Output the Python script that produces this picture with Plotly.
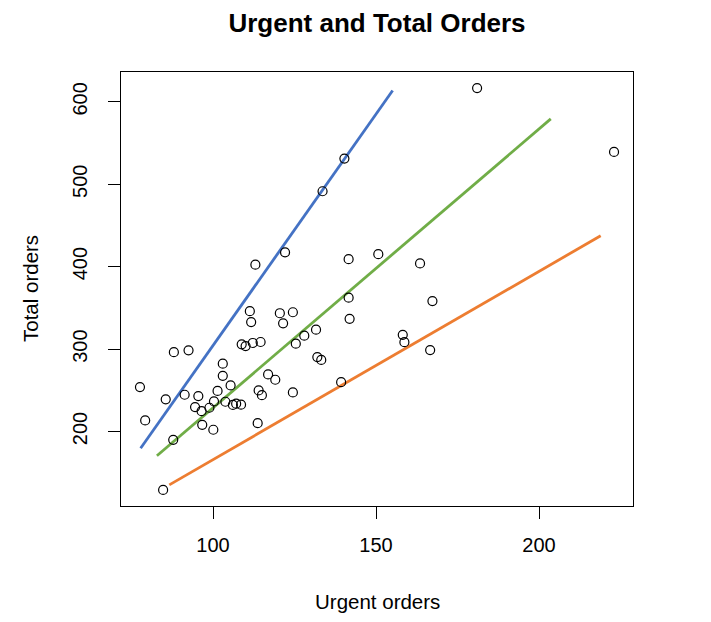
import plotly.graph_objects as go

# Data (Urgent orders vs Total orders)
urgent = [84.7, 87.8, 79.2, 77.6, 85.5, 91.3, 88.0, 92.5, 103.0, 103.0,
          105.4, 101.4, 95.5, 100.3, 94.5, 96.5, 98.9, 96.7, 100.1, 103.8,
          106.1, 107.1, 108.6, 111.3, 111.7, 120.5, 124.5, 121.5, 108.8, 110.0,
          112.2, 114.6, 125.4, 128.0, 131.6, 132.0, 133.2, 116.9, 119.1, 114.0,
          115.0, 124.5, 113.7, 140.3, 133.6, 122.1, 113.0, 141.6, 150.7, 163.5,
          181.0, 223.0, 141.6, 167.3, 141.9, 158.2, 158.7, 166.6, 139.3]
total = [129.1, 189.9, 213.4, 253.9, 239.0, 244.6, 296.3, 298.5, 282.3, 267.5,
         255.9, 249.2, 243.0, 236.5, 229.6, 224.7, 228.8, 208.1, 202.1, 236.1,
         232.2, 233.7, 232.5, 346.0, 332.8, 343.5, 344.7, 331.3, 305.8, 303.7,
         307.4, 308.6, 306.6, 316.3, 323.6, 290.3, 286.9, 269.3, 262.8, 249.8,
         244.1, 247.4, 210.1, 531.1, 491.5, 417.3, 402.4, 409.1, 415.2, 403.9,
         616.7, 539.2, 362.4, 358.3, 336.7, 317.3, 308.4, 298.8, 259.8]

# Fitted lines (endpoints)
blue_x = [77.8, 155.1]
blue_y = [179.7, 613.7]
green_x = [82.8, 203.6]
green_y = [170.5, 579.3]
orange_x = [86.6, 218.9]
orange_y = [135.2, 437.5]

x_ticks = [100, 150, 200]
y_ticks = [200, 300, 400, 500, 600]

FONT = "Liberation Sans, Arial, sans-serif"
W, H = 703, 614

def padded(vals, f=0.04):
    lo, hi = min(vals), max(vals)
    d = (hi - lo) * f
    return [lo - d, hi + d]

fig = go.Figure()
fig.add_trace(go.Scatter(x=blue_x, y=blue_y, mode="lines",
                         line=dict(color="#4472C4", width=2.8), showlegend=False))
fig.add_trace(go.Scatter(x=green_x, y=green_y, mode="lines",
                         line=dict(color="#70AD47", width=2.8), showlegend=False))
fig.add_trace(go.Scatter(x=orange_x, y=orange_y, mode="lines",
                         line=dict(color="#ED7D31", width=2.8), showlegend=False))
fig.add_trace(go.Scatter(x=urgent, y=total, mode="markers",
                         marker=dict(symbol="circle-open", size=9,
                                     color="black", line=dict(width=1.2, color="black")),
                         showlegend=False))

fig.update_layout(
    width=W, height=H,
    margin=dict(l=113, r=78, t=64, b=116),
    paper_bgcolor="white", plot_bgcolor="white",
    font=dict(family=FONT, size=20, color="black"),
    title=dict(text="<b>Urgent and Total Orders</b>", x=369 / W, xanchor="center",
               y=1, yanchor="top", yref="container", pad=dict(t=6, b=0),
               font=dict(family=FONT, size=26, color="black")),
    xaxis=dict(range=padded(urgent), tickvals=x_ticks, ticks="outside", ticklen=12,
               tickwidth=1, tickcolor="black", showline=True, linecolor="black",
               linewidth=1, mirror=True, showgrid=False, zeroline=False,
               ticklabelstandoff=9, tickfont=dict(size=20)),
    yaxis=dict(range=padded(total), tickvals=y_ticks, ticks="outside", ticklen=12,
               tickwidth=1, tickcolor="black", showline=True, linecolor="black",
               linewidth=1, mirror=True, showgrid=False, zeroline=False,
               tickangle=-90, ticklabelstandoff=13, tickfont=dict(size=20)),
    annotations=[
        dict(text="Urgent orders", xref="paper", yref="paper", x=0.5, y=0,
             xanchor="center", yanchor="middle", yshift=-95, showarrow=False,
             font=dict(family=FONT, size=20.5, color="black")),
        dict(text="Total orders", xref="paper", yref="paper", x=0, y=0.5,
             xanchor="center", yanchor="middle", xshift=-91, textangle=-90,
             showarrow=False, font=dict(family=FONT, size=20.5, color="black")),
    ],
)

fig.write_html("out.html")
